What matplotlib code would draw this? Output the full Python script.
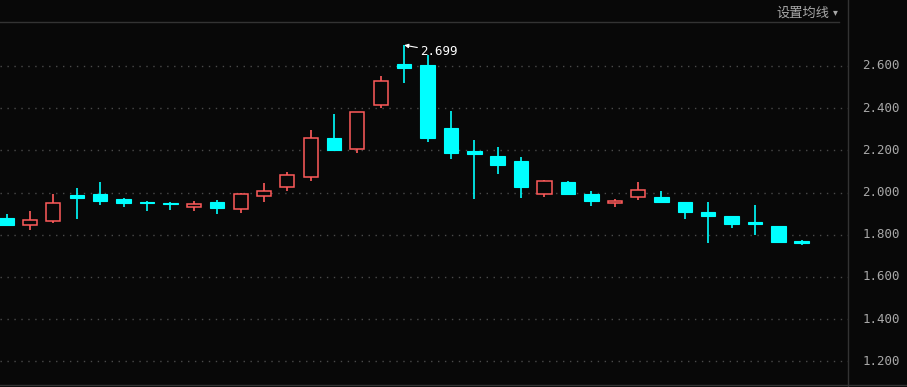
import matplotlib.pyplot as plt
import numpy as np

# OHLC values
opens = [1.879, 1.844, 1.866, 1.988, 1.993, 1.969, 1.955, 1.950, 1.933, 1.955,
         1.923, 1.985, 2.027, 2.075, 2.258, 2.208, 2.416, 2.611, 2.606, 2.306,
         2.197, 2.173, 2.149, 1.994, 2.050, 1.993, 1.949, 1.980, 1.979, 1.955,
         1.907, 1.888, 1.860, 1.841, 1.770]
highs = [1.898, 1.912, 1.993, 2.021, 2.050, 1.974, 1.960, 1.955, 1.960, 1.964,
         1.998, 2.045, 2.097, 2.296, 2.372, 2.382, 2.553, 2.699, 2.652, 2.387,
         2.249, 2.216, 2.168, 2.059, 2.054, 2.007, 1.969, 2.050, 2.007, 1.955,
         1.955, 1.888, 1.941, 1.841, 1.775]
lows = [1.842, 1.823, 1.857, 1.876, 1.942, 1.933, 1.914, 1.918, 1.914, 1.899,
        1.904, 1.955, 2.008, 2.056, 2.198, 2.189, 2.401, 2.521, 2.241, 2.160,
        1.970, 2.089, 1.975, 1.980, 1.989, 1.937, 1.933, 1.966, 1.951, 1.876,
        1.762, 1.833, 1.800, 1.766, 1.752]
closes = [1.847, 1.868, 1.950, 1.975, 1.961, 1.952, 1.952, 1.947, 1.945, 1.928,
          1.993, 2.007, 2.083, 2.258, 2.203, 2.382, 2.529, 2.592, 2.260, 2.189,
          2.184, 2.132, 2.027, 2.054, 1.994, 1.961, 1.960, 2.012, 1.956, 1.909,
          1.890, 1.852, 1.852, 1.766, 1.762]
y_ticks = [1.2, 1.4, 1.6, 1.8, 2.0, 2.2, 2.4, 2.6]
peak_label = "2.699"

bg = "#080808"
up_col = "#ff5b5b"
down_col = "#00ffff"

fig = plt.figure(figsize=(9.07, 3.87), dpi=100, facecolor=bg)
W, H = 907, 387
ax = fig.add_axes([0, 2 / H, 848 / W, 1 - 2 / H])
ax.set_facecolor(bg)

o = np.array(opens)
c = np.array(closes)
h = np.array(highs)
l = np.array(lows)
x = np.arange(len(o))
up = c >= o
cols = np.where(up, up_col, down_col)

ax.vlines(x, l, h, colors=cols, linewidth=1.2, zorder=2)
bottom = np.minimum(o, c)
height = np.maximum(np.abs(c - o), 0.002)
ax.bar(x[up], height[up], bottom=bottom[up], width=0.6, facecolor=bg,
       edgecolor=up_col, linewidth=1.1, zorder=3)
ax.bar(x[~up], height[~up], bottom=bottom[~up], width=0.62, facecolor=down_col,
       edgecolor=down_col, linewidth=0.8, zorder=3)

# dotted grid lines
for t in y_ticks:
    ax.axhline(t, color="#4a4a4a", linestyle=(0, (1, 4)), linewidth=1.0, zorder=1)

ax.set_xlim(-0.287, 35.98)
ax.set_ylim(1.087, 2.913)
ax.set_xticks([])
ax.set_yticks([])
for s in ax.spines.values():
    s.set_visible(False)

# peak annotation
imax = int(np.argmax(h))
ax.annotate(peak_label, xy=(x[imax], h[imax]), xytext=(x[imax] + 0.68, h[imax] - 0.03),
            color="white", fontsize=9, family="DejaVu Sans Mono", va="center", ha="left",
            arrowprops=dict(arrowstyle="-|>", color="white", lw=0.8,
                            mutation_scale=6, shrinkA=0, shrinkB=0), zorder=5)

# frame lines
fig.add_artist(plt.Line2D([848 / W, 848 / W], [0, 1], color="#333333", lw=1))
fig.add_artist(plt.Line2D([0, 1], [2 / H, 2 / H], color="#333333", lw=1))
fig.add_artist(plt.Line2D([0, 839 / W], [1 - 22 / H, 1 - 22 / H], color="#333333", lw=1))

# right axis labels
for t in y_ticks:
    yf = ax.transData.transform((0, t))[1] / fig.dpi / 3.87
    fig.text(900 / W, yf, f"{t:.3f}", color="#a8a8a8", fontsize=9,
             family="DejaVu Sans Mono", ha="right", va="center")

fig.text(829 / W, 1 - 13 / H, "设置均线", color="#a8a8a8", fontsize=9.5,
         family=["Noto Sans CJK SC", "DejaVu Sans"], ha="right", va="center")
fig.text(835 / W, 1 - 12 / H, "▾", color="#a8a8a8", fontsize=7,
         family="DejaVu Sans", ha="center", va="center")

fig.savefig("out.png", dpi=100, facecolor=bg)
